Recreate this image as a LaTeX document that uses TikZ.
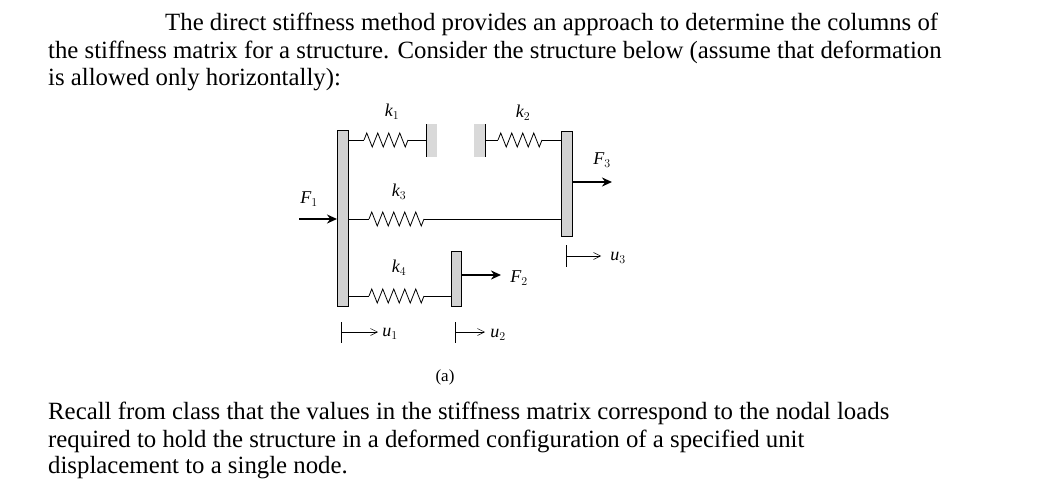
\documentclass[tikz,border=0pt]{standalone}
\usepackage{fontspec}
\setmainfont{Liberation Serif}
\usetikzlibrary{decorations.pathmorphing,arrows.meta}
\begin{document}
\begin{tikzpicture}[x=1pt,y=-1pt,
  bar/.style={draw=black,fill=gray!35,line width=0.6pt},
  wall/.style={fill=gray!30,draw=none},
  spr/.style={line width=0.8pt,decorate,decoration={zigzag,segment length=11pt,amplitude=7pt,pre length=0pt,post length=0pt}},
  wire/.style={line width=0.8pt},
  force/.style={line width=2.4pt,-{Stealth[length=10pt,width=9pt]}},
  disp/.style={line width=0.5pt,-{Straight Barb[length=7pt,width=7pt]}},
  txt/.style={font=\fontsize{24.8}{30}\selectfont,anchor=west,inner sep=0pt},
  lab/.style={font=\fontsize{18}{20}\selectfont\itshape,inner sep=0pt}]
\useasboundingbox (0,0) rectangle (1046,503);
\node[txt] (t1) at (165,24) {The direct stiffness method provides an approach to determine the columns of};
\node[txt] (t2) at (48,52) {the stiffness matrix for a structure. Consider the structure below (assume that deformation};
\node[txt] (t3) at (48,80) {is allowed only horizontally):};
\node[txt] (t4) at (48,413) {Recall from class that the values in the stiffness matrix correspond to the nodal loads};
\node[txt] (t5) at (48,441) {required to hold the structure in a deformed configuration of a specified unit};
\node[txt] (t6) at (48,468) {displacement to a single node.};
% walls
\fill[wall] (427,124) rectangle (437,157);
\draw[line width=0.8pt] (426,124) -- (426,157);
\fill[wall] (474,124) rectangle (485,157);
\draw[line width=0.8pt] (485,124) -- (485,157);
% springs
\draw[wire] (348,140) -- (364,140);
\draw[spr] (364,140) -- (408,140);
\draw[wire] (408,140) -- (426,140);
\draw[wire] (485,140) -- (498,140);
\draw[spr] (498,140) -- (542,140);
\draw[wire] (542,140) -- (561,140);
\draw[wire] (348,219) -- (369,219);
\draw[spr] (369,219) -- (424,219);
\draw[wire] (424,219) -- (561,219);
\draw[wire] (348,296) -- (369,296);
\draw[spr] (369,296) -- (424,296);
\draw[wire] (424,296) -- (451,296);
% bars
\draw[bar] (337,130) rectangle (348,306);
\draw[bar] (561,131) rectangle (572,236);
\draw[bar] (451,251) rectangle (461,306);
% forces
\draw[force] (299,219) -- (337,219);
\draw[force] (572,182) -- (612,182);
\draw[force] (461,275) -- (501,275);
% displacement
\draw[line width=0.5pt] (341,322) -- (341,343);
\draw[disp] (341,332) -- (378,332);
\draw[line width=0.5pt] (455,322) -- (455,343);
\draw[disp] (455,332) -- (485,332);
\draw[line width=0.5pt] (566,245) -- (566,267);
\draw[disp] (566,256) -- (601,256);
% labels
\node[lab] (k1) at (392,112) {k$_1$};
\node[lab] (k2) at (523,113) {k$_2$};
\node[lab] (k3) at (399,192) {k$_3$};
\node[lab] (k4) at (399,268) {k$_4$};
\node[lab] (F1) at (309,199) {F$_1$};
\node[lab] (F2) at (519,278) {F$_2$};
\node[lab] (F3) at (602,160) {F$_3$};
\node[lab] (u1) at (390,334) {u$_1$};
\node[lab] (u2) at (498,335) {u$_2$};
\node[lab] (u3) at (618,258) {u$_3$};
\node[font=\fontsize{17}{19}\selectfont,inner sep=0pt] (a) at (445,377) {(a)};
\end{tikzpicture}
\end{document}
